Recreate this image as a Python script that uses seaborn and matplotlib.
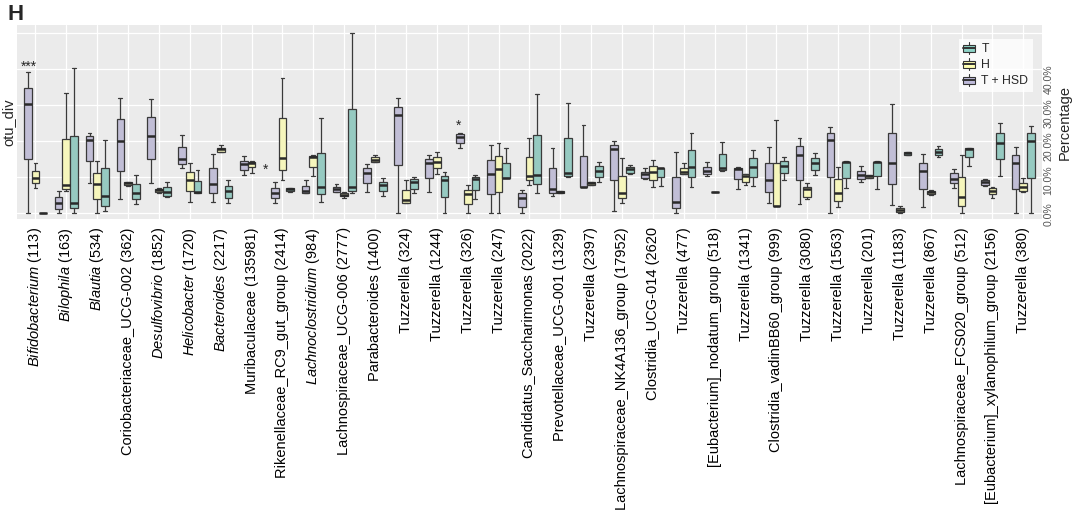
import numpy as np
import pandas as pd
import seaborn as sns
import matplotlib.pyplot as plt
from matplotlib.patches import Patch, Rectangle
from matplotlib.lines import Line2D
from matplotlib.legend_handler import HandlerBase

# taxa on the x axis, (name, count, italic?)
taxa = [
    ("Bifidobacterium", "(113)", True), ("Bilophila", "(163)", True),
    ("Blautia", "(534)", True), ("Coriobacteriaceae_UCG-002", "(362)", False),
    ("Desulfovibrio", "(1852)", True), ("Helicobacter", "(1720)", True),
    ("Bacteroides", "(2217)", True), ("Muribaculaceae", "(135981)", False),
    ("Rikenellaceae_RC9_gut_group", "(2414)", False), ("Lachnoclostridium", "(984)", True),
    ("Lachnospiraceae_UCG-006", "(2777)", False), ("Parabacteroides", "(1400)", False),
    ("Tuzzerella", "(324)", False), ("Tuzzerella", "(1244)", False),
    ("Tuzzerella", "(326)", False), ("Tuzzerella", "(247)", False),
    ("Candidatus_Saccharimonas", "(2022)", False), ("Prevotellaceae_UCG-001", "(1329)", False),
    ("Tuzzerella", "(2397)", False), ("Lachnospiraceae_NK4A136_group", "(17952)", False),
    ("Clostridia_UCG-014", "(2620", False), ("Tuzzerella", "(477)", False),
    ("[Eubacterium]_nodatum_group", "(518)", False), ("Tuzzerella", "(1341)", False),
    ("Clostridia_vadinBB60_group", "(999)", False), ("Tuzzerella", "(3080)", False),
    ("Tuzzerella", "(1563)", False), ("Tuzzerella", "(201)", False),
    ("Tuzzerella", "(1183)", False), ("Tuzzerella", "(867)", False),
    ("Lachnospiraceae_FCS020_group", "(512)", False),
    ("[Eubacterium]_xylanophilum_group", "(2156)", False), ("Tuzzerella", "(380)", False),
]

groups = ["T + HSD", "H", "T"]
colors = {"T": "#8DD3C7", "H": "#FFFFB3", "T + HSD": "#BEBADA"}

# five-number summaries (min, q1, median, q3, max) of otu_div per taxon
thsd_stats = [
    (0.0, 15.0, 30.2, 34.6, 39.1), (0.0, 1.1, 2.8, 4.4, 6.1), (8.3, 14.4, 20.2, 21.3, 22.2),
    (3.9, 11.6, 19.9, 26.0, 31.9), (8.3, 15.0, 21.3, 26.6, 31.6), (12.5, 13.6, 15.0, 18.3, 21.6),
    (3.0, 5.5, 8.0, 12.5, 16.3), (10.5, 11.9, 13.6, 14.4, 15.8), (2.8, 4.2, 5.5, 6.9, 8.6),
    (5.5, 5.5, 6.1, 7.5, 9.1), (5.8, 5.8, 6.6, 7.2, 8.0), (5.8, 8.3, 11.1, 12.5, 13.6),
    (0.0, 13.3, 27.1, 29.4, 31.9), (5.8, 9.7, 13.9, 15.0, 16.1), (18.0, 19.4, 21.1, 21.9, 22.2),
    (0.0, 5.3, 10.8, 14.7, 18.8), (0.0, 1.7, 4.2, 5.5, 6.4), (4.7, 5.5, 6.6, 12.5, 18.0),
    (7.2, 7.2, 7.2, 15.8, 24.4), (0.6, 9.1, 17.7, 18.8, 19.9), (9.4, 9.7, 10.8, 11.4, 12.5),
    (0.0, 1.4, 3.0, 10.0, 16.9), (10.2, 10.8, 11.6, 12.7, 14.1), (6.6, 9.4, 12.2, 12.5, 12.7),
    (2.8, 5.8, 9.1, 13.9, 18.3), (2.5, 9.1, 16.1, 18.6, 20.8), (0.0, 10.0, 20.2, 22.2, 23.8),
    (8.6, 9.4, 10.5, 11.6, 13.0), (2.2, 8.0, 13.9, 22.2, 30.2), (1.7, 6.6, 11.6, 13.9, 16.3),
    (6.9, 8.3, 9.4, 11.1, 12.2), (7.5, 7.8, 8.6, 9.1, 9.4), (0.0, 6.6, 13.9, 16.1, 18.3),
]
h_stats = [
    (6.9, 8.3, 9.7, 11.6, 13.9), (6.1, 6.6, 7.8, 20.5, 33.2), (0.0, 3.9, 8.0, 11.1, 14.4),
    (7.5, 7.8, 8.3, 8.6, 8.6), (5.5, 5.8, 6.4, 6.6, 6.9), (3.0, 6.1, 9.1, 11.4, 13.9),
    (16.9, 16.9, 17.7, 18.0, 18.8), (11.1, 12.7, 13.9, 14.1, 14.4), (9.1, 11.9, 15.2, 26.3, 37.4),
    (10.2, 12.7, 15.5, 15.8, 16.1), (4.2, 4.7, 5.0, 5.5, 5.8), (14.1, 14.1, 14.7, 15.5, 16.1),
    (2.8, 2.8, 3.6, 6.4, 9.1), (10.8, 12.5, 14.1, 15.5, 16.9), (0.0, 2.5, 5.3, 6.4, 7.8),
    (0.0, 5.8, 12.2, 15.8, 19.4), (7.8, 9.1, 10.2, 15.5, 20.8), (5.5, 5.5, 5.8, 6.1, 6.1),
    (7.8, 7.8, 8.3, 8.6, 8.6), (2.8, 4.2, 5.5, 10.2, 15.2), (7.2, 9.1, 11.4, 13.0, 14.7),
    (10.8, 10.8, 11.4, 12.5, 13.9), (5.8, 5.8, 5.8, 5.8, 5.8), (7.8, 8.6, 10.2, 10.8, 10.8),
    (1.9, 1.9, 1.9, 13.9, 25.8), (3.9, 4.4, 6.6, 7.2, 8.3), (1.7, 3.3, 5.5, 9.4, 12.7),
    (9.7, 9.7, 10.2, 10.5, 10.5), (0.0, 0.3, 0.8, 1.4, 1.9), (5.0, 5.3, 5.8, 6.1, 6.4),
    (0.0, 1.9, 4.4, 10.0, 16.1), (4.2, 5.3, 6.1, 6.9, 7.2), (5.8, 6.1, 7.2, 8.3, 9.7),
]
t_stats = [
    (0.0, 0.0, 0.0, 0.0, 0.0), (0.0, 1.4, 2.8, 21.3, 40.2), (0.6, 1.9, 4.7, 12.5, 20.2),
    (2.5, 3.9, 5.5, 8.0, 10.5), (4.4, 4.7, 5.8, 7.2, 8.6), (5.5, 5.5, 5.8, 8.9, 11.9),
    (2.8, 4.2, 6.1, 7.5, 9.1), None, (5.8, 6.1, 6.6, 6.9, 6.9),
    (3.0, 5.3, 7.2, 16.6, 26.3), (5.5, 6.1, 7.2, 28.8, 49.9), (4.7, 6.1, 7.8, 8.6, 9.7),
    (5.5, 6.6, 8.6, 9.4, 10.0), (0.0, 4.4, 9.1, 10.2, 11.4), (3.9, 6.4, 9.4, 10.0, 10.5),
    (9.7, 9.7, 9.7, 13.9, 18.0), (5.5, 8.0, 10.5, 21.6, 33.0), (10.0, 10.2, 11.1, 20.8, 30.5),
    (8.6, 10.0, 11.6, 13.0, 14.1), (10.8, 11.1, 12.2, 12.7, 13.3), (7.5, 10.0, 12.5, 12.5, 12.5),
    (7.2, 10.0, 12.7, 17.5, 22.2), (11.6, 11.9, 12.5, 16.3, 19.7), (7.5, 10.0, 12.7, 15.2, 17.5),
    (9.1, 11.1, 13.0, 14.4, 15.5), (10.5, 11.9, 13.9, 15.2, 16.6), (6.9, 9.7, 14.1, 14.1, 14.4),
    (6.6, 10.2, 14.1, 14.1, 14.4), (16.1, 16.1, 16.6, 16.9, 16.9), (15.5, 16.1, 16.9, 17.7, 18.6),
    (13.0, 15.5, 17.7, 18.0, 18.0), (10.2, 15.0, 19.4, 22.2, 24.9), (0.0, 9.7, 19.9, 22.2, 24.1),
]

pct_ticks = [0, 10, 20, 30, 40]
pct_labels = ["0.0%", "10.0%", "20.0%", "30.0%", "40.0%"]

# significance marks: (taxon index, offset, height, text)
signif = [(0, -0.2, 39.3, "***"), (7, 0.45, 10.8, "*"), (14, -0.29, 23.0, "*")]


def make_frame():
    rows = []
    stats = {"T + HSD": thsd_stats, "H": h_stats, "T": t_stats}
    for i, (name, num, _) in enumerate(taxa):
        key = f"{name} {num}"
        for g in groups:
            s = stats[g][i]
            if s is None:
                continue
            for v in s:
                rows.append({"taxon": key, "group": g, "otu_div": v})
    return pd.DataFrame(rows)


class BoxKey(HandlerBase):
    def create_artists(self, legend, orig, xd, yd, w, h, fontsize, trans):
        x0, y0 = -xd, -yd
        cx = x0 + w / 2
        ec = "#333333"
        wl = Line2D([cx, cx], [y0 - 0.1 * h, y0 + 1.1 * h], color=ec, lw=0.8, transform=trans)
        box = Rectangle((x0, y0 + 0.15 * h), w, 0.7 * h, facecolor=orig.get_facecolor(),
                        edgecolor=ec, lw=0.8, transform=trans)
        med = Line2D([x0, x0 + w], [y0 + h / 2, y0 + h / 2], color=ec, lw=1.4, transform=trans)
        return [wl, box, med]


def main():
    sns.set_style("white")
    plt.rcParams['font.family'] = ['Liberation Sans', 'DejaVu Sans']
    plt.rcParams['mathtext.fontset'] = 'custom'
    plt.rcParams['mathtext.rm'] = 'Liberation Sans'
    plt.rcParams['mathtext.it'] = 'Liberation Sans:italic'

    df = make_frame()
    order = [f"{n} {c}" for n, c, _ in taxa]

    fig = plt.figure(figsize=(10.8, 5.29), dpi=100)
    ax = fig.add_axes([0.0157, 0.586, 0.949, 0.3667])
    ax.set_facecolor("#EBEBEB")

    sns.boxplot(
        data=df, x="taxon", y="otu_div", hue="group",
        order=order, hue_order=groups, palette=colors,
        whis=(0, 100), width=0.75, gap=0, showfliers=False,
        linewidth=0.9, linecolor="#3a3a3a",
        medianprops=dict(linewidth=1.8, color="#2a2a2a"),
        legend=False, ax=ax, zorder=3,
    )

    ax.set_xlim(-0.6, len(taxa) - 0.4)
    ax.set_ylim(-1.66, 52.1)
    ax.set_yticks([0, 10, 20, 30, 40, 50])
    ax.set_yticklabels([])
    ax.grid(True, color="white", linewidth=0.9, zorder=0)
    ax.set_axisbelow(True)
    for s in ax.spines.values():
        s.set_visible(False)

    labels = []
    for name, num, it in taxa:
        labels.append(rf"$\mathit{{{name}}}$ {num}" if it else f"{name} {num}")
    ax.set_xticks(range(len(taxa)))
    ax.set_xticklabels(labels, rotation=90, fontsize=10.5, color="black")
    ax.tick_params(axis="x", length=2.5, width=0.6, color="#555555", pad=3.5)
    ax.tick_params(axis="y", length=0)
    ax.set_xlabel("")
    ax.set_ylabel("otu_div", fontsize=10.5)
    ax.yaxis.set_label_coords(-0.002, 0.5)

    for i, dx, y, t in signif:
        ax.text(i + dx, y, t, ha="center", va="baseline", fontsize=10, zorder=5)

    # right-hand percentage scale
    ax2 = ax.twinx()
    ax2.set_ylim(-1.48, 56.0)
    ax2.set_yticks(pct_ticks)
    ax2.set_yticklabels(pct_labels, rotation=90, va="center", fontsize=7.6, color="#555555")
    ax2.tick_params(axis="y", length=0, pad=1)
    ax2.set_ylabel("Percentage", fontsize=10.5, labelpad=3)
    for s in ax2.spines.values():
        s.set_visible(False)

    handles = [Patch(facecolor=colors[g], label=g) for g in ["T", "H", "T + HSD"]]
    leg = ax2.legend(handles=handles, handler_map={Patch: BoxKey()},
                     loc="upper right", bbox_to_anchor=(0.997, 0.96),
                     fontsize=8.8, handlelength=1.0, handleheight=0.9,
                     handletextpad=0.5, labelspacing=0.3, borderpad=0.35,
                     frameon=True, fancybox=False)
    leg.get_frame().set_facecolor("white")
    leg.get_frame().set_edgecolor("none")

    fig.text(0.007, 0.992, "H", fontsize=16, fontweight="bold", ha="left", va="top")

    fig.savefig("out.png", dpi=100)


if __name__ == '__main__':
    main()
